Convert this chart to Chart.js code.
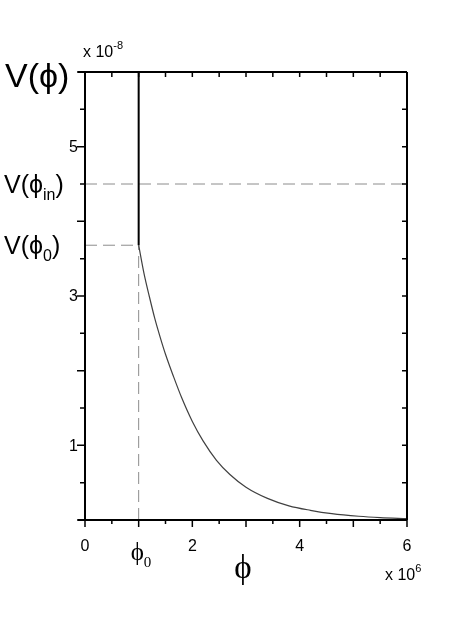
<!DOCTYPE html>
<html lang="en">
<head>
  <meta charset="UTF-8">
  <title>V(phi) potential</title>
  <style>
    body {
      margin: 0;
      background: #fff;
    }
    #wrap {
      width: 474px;
      height: 625px;
      position: relative;
    }
  </style>
  <script src="https://cdn.jsdelivr.net/npm/chart.js"></script>
</head>
<body>
  <div id="wrap"><canvas id="chart"></canvas></div>

  <script>
    // values (x in units of 1e6, V in units of 1e-8)
    const phiCurve = [1.0, 1.1, 1.2, 1.3, 1.4, 1.5, 1.65, 1.8, 2.0, 2.2, 2.45, 2.7, 3.0, 3.4, 3.8, 4.2, 4.6, 5.1, 5.5, 6.0];
    const vCurve   = [3.68, 3.30, 2.99, 2.70, 2.45, 2.22, 1.92, 1.64, 1.32, 1.06, 0.80, 0.61, 0.44, 0.29, 0.19, 0.13, 0.085, 0.05, 0.032, 0.018];
    const phi0 = 1;
    const vPhi0 = 3.68;
    const vPhiIn = 4.5;
    const xRange = [0, 6];
    const yRange = [0, 6];
    const xTickValues = [0, 2, 4, 6];
    const xTickLabels = ['0', '2', '4', '6'];
    const yTickValues = [1, 3, 5];
    const yTickLabels = ['1', '3', '5'];
    const minorStep = 0.5;

    const SANS = '"Liberation Sans", Arial, sans-serif';
    const SERIF = '"Liberation Serif", "DejaVu Serif", serif';
    const PHI = '\u03D5';

    function pts(xs, ys) {
      return xs.map((x, i) => ({ x: x, y: ys[i] }));
    }

    // text made of runs, each with its own font and vertical shift (sub/superscripts)
    function drawScripted(ctx, x, y, parts) {
      let cx = x;
      parts.forEach(p => {
        ctx.font = p.font;
        ctx.fillText(p.t, cx, y + (p.dy || 0));
        cx += ctx.measureText(p.t).width;
      });
      return cx;
    }

    const framePlugin = {
      id: 'frame',
      afterDatasetsDraw(chart) {
        const ctx = chart.ctx;
        const a = chart.chartArea;
        const xs = chart.scales.x, ys = chart.scales.y;
        ctx.save();
        ctx.strokeStyle = '#000';
        ctx.fillStyle = '#000';
        ctx.lineWidth = 2;

        // frame, top and bottom lines run a little past the left spine
        ctx.beginPath();
        ctx.moveTo(a.left - 7, a.top); ctx.lineTo(a.right, a.top);
        ctx.moveTo(a.left - 7, a.bottom); ctx.lineTo(a.right, a.bottom);
        ctx.moveTo(a.left, a.top); ctx.lineTo(a.left, a.bottom);
        ctx.moveTo(a.right, a.top); ctx.lineTo(a.right, a.bottom);
        ctx.stroke();

        ctx.lineWidth = 1.5;
        ctx.beginPath();
        for (let v = xRange[0]; v <= xRange[1] + 1e-9; v += minorStep) {
          const px = xs.getPixelForValue(v);
          const major = Math.abs(v - Math.round(v)) < 1e-9;
          ctx.moveTo(px, a.bottom); ctx.lineTo(px, a.bottom + (major ? 7 : 4));
          ctx.moveTo(px, a.top); ctx.lineTo(px, a.top + 5);
        }
        for (let v = yRange[0]; v <= yRange[1] + 1e-9; v += minorStep) {
          const py = ys.getPixelForValue(v);
          const major = Math.abs(v - Math.round(v)) < 1e-9;
          ctx.moveTo(a.left, py); ctx.lineTo(a.left - (major ? 8 : 5), py);
          ctx.moveTo(a.right, py); ctx.lineTo(a.right - 5, py);
        }
        ctx.stroke();

        // tick labels
        ctx.font = '16px ' + SANS;
        ctx.textBaseline = 'middle';
        ctx.textAlign = 'center';
        xTickValues.forEach((v, i) => {
          ctx.fillText(xTickLabels[i], xs.getPixelForValue(v), a.bottom + 27);
        });
        ctx.textAlign = 'right';
        yTickValues.forEach((v, i) => {
          ctx.fillText(yTickLabels[i], a.left - 7, ys.getPixelForValue(v) + 1);
        });

        // phi_0 on the x axis
        ctx.textAlign = 'left';
        ctx.textBaseline = 'alphabetic';
        const px0 = xs.getPixelForValue(phi0);
        drawScripted(ctx, px0 - 8, a.bottom + 40, [
          { t: PHI, font: '25px ' + SERIF },
          { t: '0', font: '15px ' + SERIF, dy: 7 }
        ]);

        // V(phi_in) and V(phi_0) on the y axis
        drawScripted(ctx, 4, ys.getPixelForValue(vPhiIn) + 9, [
          { t: 'V(', font: '25px ' + SANS },
          { t: PHI, font: '25px ' + SANS },
          { t: 'in', font: '16px ' + SANS, dy: 7 },
          { t: ')', font: '25px ' + SANS }
        ]);
        drawScripted(ctx, 4, ys.getPixelForValue(vPhi0) + 9, [
          { t: 'V(', font: '25px ' + SANS },
          { t: PHI, font: '25px ' + SANS },
          { t: '0', font: '16px ' + SANS, dy: 7 },
          { t: ')', font: '25px ' + SANS }
        ]);

        // axis titles
        drawScripted(ctx, 5, a.top + 15, [
          { t: 'V(', font: '34px ' + SANS },
          { t: PHI, font: '34px ' + SANS },
          { t: ')', font: '34px ' + SANS }
        ]);
        ctx.textAlign = 'center';
        ctx.font = '33px ' + SERIF;
        ctx.fillText(PHI, (a.left + a.right) / 2 - 3, a.bottom + 58);
        ctx.textAlign = 'left';

        // multipliers
        drawScripted(ctx, a.left - 2, a.top - 15, [
          { t: 'x 10', font: '16px ' + SANS },
          { t: '-8', font: '11px ' + SANS, dy: -8 }
        ]);
        drawScripted(ctx, a.right - 22, a.bottom + 60, [
          { t: 'x 10', font: '16px ' + SANS },
          { t: '6', font: '11px ' + SANS, dy: -8 }
        ]);

        ctx.restore();
      }
    };

    const dashGray = '#8c8c8c';

    new Chart(document.getElementById('chart'), {
      type: 'scatter',
      data: {
        datasets: [
          {
            data: pts(phiCurve, vCurve),
            showLine: true,
            borderColor: '#404040',
            borderWidth: 1.2,
            pointRadius: 0,
            cubicInterpolationMode: 'monotone'
          },
          {
            data: pts([phi0, phi0], [yRange[1], vPhi0]),
            showLine: true,
            borderColor: '#000',
            borderWidth: 2,
            pointRadius: 0
          },
          {
            data: pts(xRange, [vPhiIn, vPhiIn]),
            showLine: true,
            borderColor: dashGray,
            borderWidth: 1,
            borderDash: [12, 6],
            pointRadius: 0
          },
          {
            data: pts([xRange[0], phi0], [vPhi0, vPhi0]),
            showLine: true,
            borderColor: dashGray,
            borderWidth: 1,
            borderDash: [12, 6],
            pointRadius: 0
          },
          {
            data: pts([phi0, phi0], [yRange[0], vPhi0]),
            showLine: true,
            borderColor: dashGray,
            borderWidth: 1,
            borderDash: [12, 6],
            pointRadius: 0
          }
        ]
      },
      options: {
        responsive: true,
        maintainAspectRatio: false,
        animation: false,
        layout: { padding: { left: 85, right: 67, top: 72, bottom: 105 } },
        plugins: { legend: { display: false }, tooltip: { enabled: false } },
        scales: {
          x: { type: 'linear', display: false, min: xRange[0], max: xRange[1] },
          y: { type: 'linear', display: false, min: yRange[0], max: yRange[1] }
        }
      },
      plugins: [framePlugin]
    });
  </script>
</body>
</html>
